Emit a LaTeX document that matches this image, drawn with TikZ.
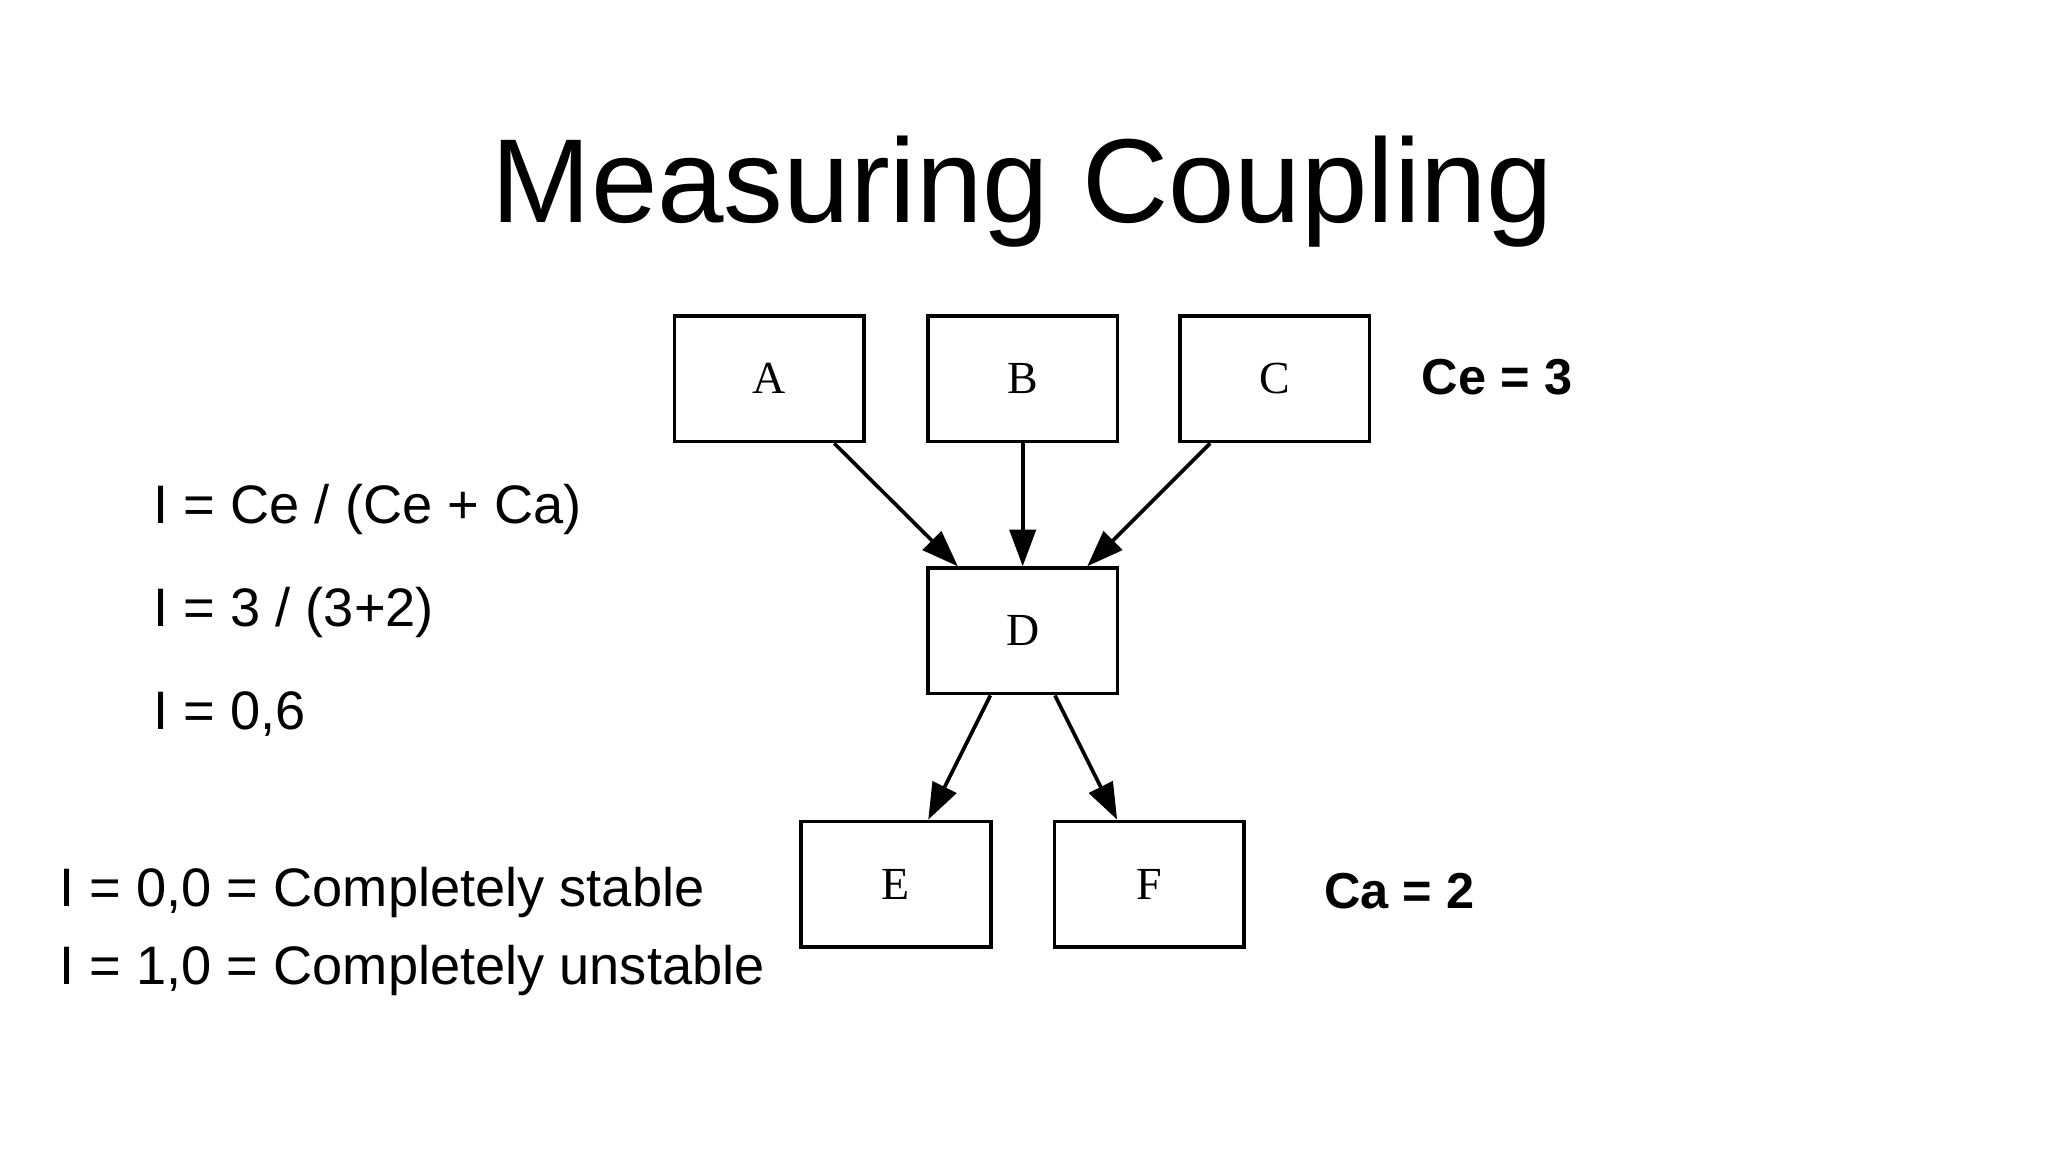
\documentclass[tikz,border=0pt]{standalone}
\usepackage{fontspec}
\setmainfont{Liberation Sans}
\newfontfamily\boxfont{Liberation Serif}
\usetikzlibrary{arrows.meta}
\tikzset{
  module/.style={draw, thick, minimum width=1.45cm, minimum height=0.96cm, font=\boxfont\fontsize{10}{12}\selectfont},
  dep/.style={thick, -{Triangle[length=0.28cm,width=0.2cm]}},
  note/.style={anchor=west, inner sep=0pt, font=\fontsize{11.8}{14}\selectfont},
  count/.style={anchor=west, inner sep=0pt, font=\bfseries\fontsize{11}{13}\selectfont}
}
\begin{document}
\begin{tikzpicture}[x=0.01cm, y=-0.01cm]
  \useasboundingbox (0,0) rectangle (1568,882);
  % title
  \node (title) at (783,147) {\fontsize{26}{31}\selectfont Measuring Coupling};
  % modules
  \node[module] (A) at (589,290) {A};
  \node[module] (B) at (783,290) {B};
  \node[module] (C) at (976,290) {C};
  \node[module] (D) at (783,483) {D};
  \node[module] (E) at (686,677) {E};
  \node[module] (F) at (880,677) {F};
  % dependencies
  \foreach \src in {A,B,C}
    \draw[dep] (\src) -- (D);
  \draw[dep] (D) -- (E);
  \draw[dep] (D) -- (F);
  % counts
  \node[count] (ce) at (1088,289) {Ce = 3};
  \node[count] (ca) at (1013,682) {Ca = 2};
  % formulas
  \node[note] (f1) at (117,390) {I = Ce / (Ce + Ca)};
  \node[note] (f2) at (117,469) {I = 3 / (3+2)};
  \node[note] (f3) at (117,547) {I = 0,6};
  \node[note] (s1) at (45,683) {I = 0,0 = Completely stable};
  \node[note] (s2) at (45,743) {I = 1,0 = Completely unstable};
\end{tikzpicture}
\end{document}
